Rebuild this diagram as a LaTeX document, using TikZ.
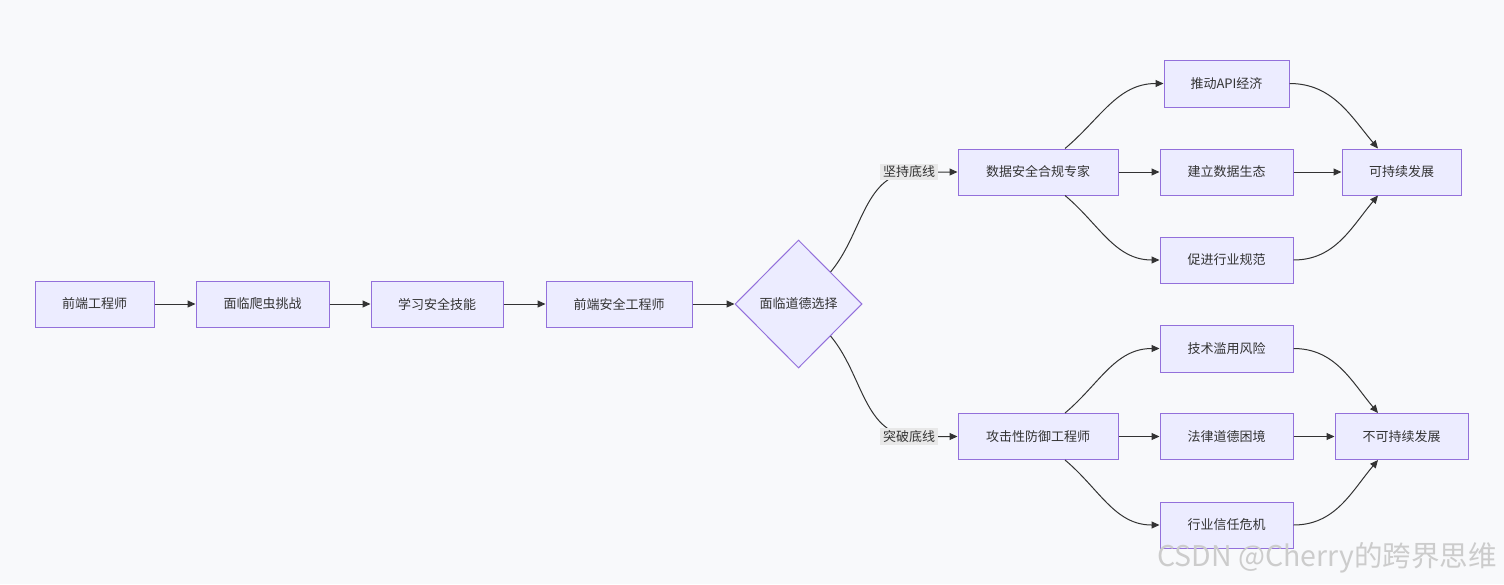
\documentclass[tikz,border=0pt]{standalone}
\usepackage{fontspec}
\newfontfamily\cjk{Noto Sans CJK SC}
\usetikzlibrary{arrows.meta,shapes.geometric}
\definecolor{boxfill}{HTML}{ECECFF}
\definecolor{boxline}{HTML}{9370DB}
\definecolor{edgegray}{HTML}{333333}
\definecolor{labelbg}{HTML}{E8E8E8}
\definecolor{pagebg}{HTML}{F8F9FB}

\begin{document}
\begin{tikzpicture}[x=1pt,y=1pt,>={Triangle[length=8pt,width=7pt]},
  font=\cjk\fontsize{13}{15}\selectfont,
  stage/.style={draw=boxline,fill=boxfill,line width=1pt,minimum height=46pt,inner sep=0pt,text=edgegray},
  choice/.style={diamond,draw=boxline,fill=boxfill,line width=1pt,minimum width=127pt,minimum height=128pt,inner sep=0pt,text=edgegray},
  flow/.style={edgegray,line width=1pt,->},
  edgelabel/.style={fill=labelbg,inner xsep=3pt,inner ysep=2pt,text=edgegray}]
  \useasboundingbox (0,0) rectangle (1504,-584);
  \fill[pagebg] (0,0) rectangle (1504,-584);

  \node[stage,minimum width=119pt] (fe) at (94.5,-304) {前端工程师};
  \node[stage,minimum width=133pt] (crawl) at (262.5,-304) {面临爬虫挑战};
  \node[stage,minimum width=132pt] (learn) at (437,-304) {学习安全技能};
  \node[stage,minimum width=146pt] (fesec) at (619,-304) {前端安全工程师};
  \node[choice] (ethic) at (798.5,-304) {面临道德选择};

  \node[stage,minimum width=160pt] (expert) at (1038,-172) {数据安全合规专家};
  \node[stage,minimum width=125pt,minimum height=47pt] (api) at (1226.5,-83.5) {推动API经济};
  \node[stage,minimum width=133pt] (eco) at (1226.5,-172) {建立数据生态};
  \node[stage,minimum width=133pt] (norm) at (1226.5,-260) {促进行业规范};
  \node[stage,minimum width=119pt] (sus) at (1401.5,-172) {可持续发展};

  \node[stage,minimum width=160pt] (attack) at (1038,-436.5) {攻击性防御工程师};
  \node[stage,minimum width=133pt,minimum height=47pt] (abuse) at (1226.5,-348.5) {技术滥用风险};
  \node[stage,minimum width=133pt] (legal) at (1226.5,-436.5) {法律道德困境};
  \node[stage,minimum width=133pt] (trust) at (1226.5,-525) {行业信任危机};
  \node[stage,minimum width=133pt] (unsus) at (1401.5,-436.5) {不可持续发展};

  \draw[flow] (fe) -- (crawl);
  \draw[flow] (crawl) -- (learn);
  \draw[flow] (learn) -- (fesec);
  \draw[flow] (fesec) -- (ethic);

  % the two choices
  \coordinate (k1) at (915,-172);
  \coordinate (k2) at (915,-436.5);
  \draw[flow] (ethic.45) to[out=50,in=180] (k1) -- (expert.west);
  \draw[flow] (ethic.-45) to[out=-50,in=180] (k2) -- (attack.west);
  \node[edgelabel] (keep) at (909,-172) {坚持底线};
  \node[edgelabel] (break) at (909,-436.5) {突破底线};

  \draw[flow] ([xshift=27pt]expert.north) to[out=40,in=180] (api.west);
  \draw[flow] (expert) -- (eco);
  \draw[flow] ([xshift=27pt]expert.south) to[out=-40,in=180] (norm.west);
  \draw[flow] (api.east) to[out=0,in=130] ([xshift=-23.5pt]sus.north);
  \draw[flow] (eco) -- (sus);
  \draw[flow] (norm.east) to[out=0,in=-130] ([xshift=-23.5pt]sus.south);

  \draw[flow] ([xshift=27pt]attack.north) to[out=40,in=180] (abuse.west);
  \draw[flow] (attack) -- (legal);
  \draw[flow] ([xshift=27pt]attack.south) to[out=-40,in=180] (trust.west);
  \draw[flow] (abuse.east) to[out=0,in=130] ([xshift=-23.5pt]unsus.north);
  \draw[flow] (legal) -- (unsus);
  \draw[flow] (trust.east) to[out=0,in=-130] ([xshift=-23.5pt]unsus.south);

  \node[text=gray!40,font=\cjk\fontsize{28.5}{31}\selectfont] (mark) at (1327,-558) {CSDN @Cherry的跨界思维};
\end{tikzpicture}
\end{document}
